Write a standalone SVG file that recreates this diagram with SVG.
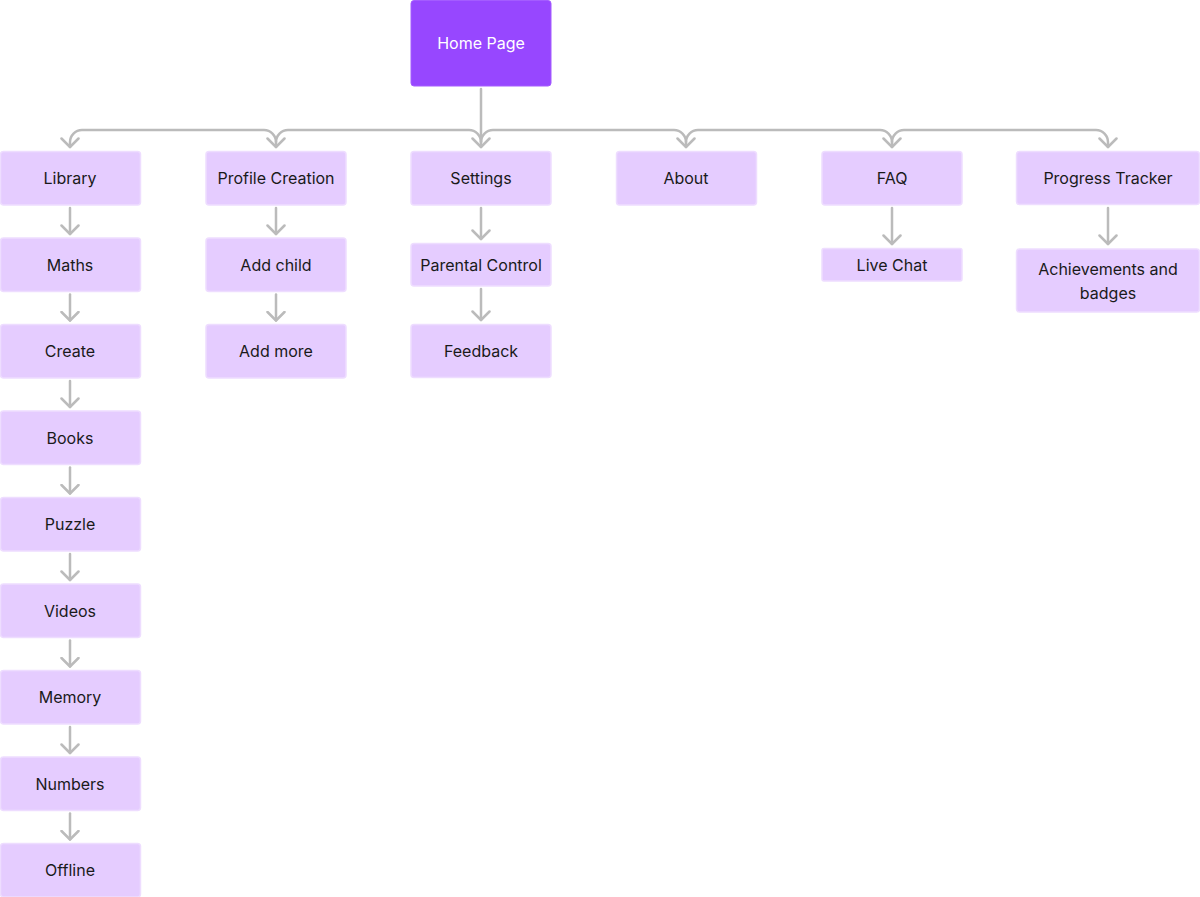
<svg xmlns="http://www.w3.org/2000/svg" width="1200" height="897" viewBox="0 0 1200 897">
<defs>
<style>
.n rect{fill:#E5CCFF;stroke:#EEDDFF;stroke-width:1.5}
.n text{font-family:Inter,"Noto Sans",sans-serif;font-size:16px;fill:#1A1A1A;text-anchor:middle}
.h rect{fill:#9747FF;stroke:#A45CFF;stroke-width:1}
.h text{font-family:Inter,"Noto Sans",sans-serif;font-size:16px;fill:#FFFFFF;text-anchor:middle}
.c path{fill:none;stroke:#BBBBBB;stroke-width:2.5;stroke-linecap:round;stroke-linejoin:round}
</style>
<marker id="a" viewBox="-10 -10 20 20" markerWidth="20" markerHeight="20" markerUnits="userSpaceOnUse" refX="0" refY="0" orient="auto">
<path d="M-8.5,-8.5 L0,0 L-8.5,8.5" fill="none" stroke="#BBBBBB" stroke-width="2.5" stroke-linecap="round" stroke-linejoin="round"/>
</marker>
</defs>
<g id="connectors" class="c">
<path d="M481 89 V147" marker-end="url(#a)"/>
<path d="M276 142 A12 12 0 0 0 264 130 H82 A12 12 0 0 0 70 142 V147" marker-end="url(#a)"/>
<path d="M481 142 A12 12 0 0 0 469 130 H288 A12 12 0 0 0 276 142 V147" marker-end="url(#a)"/>
<path d="M481 142 A12 12 0 0 1 493 130 H674 A12 12 0 0 1 686 142 V147" marker-end="url(#a)"/>
<path d="M686 142 A12 12 0 0 1 698 130 H880 A12 12 0 0 1 892 142 V147" marker-end="url(#a)"/>
<path d="M892 142 A12 12 0 0 1 904 130 H1096 A12 12 0 0 1 1108 142 V147" marker-end="url(#a)"/>
<path d="M70 208 V234" marker-end="url(#a)"/>
<path d="M70 294.5 V320.5" marker-end="url(#a)"/>
<path d="M70 381 V407" marker-end="url(#a)"/>
<path d="M70 467.5 V493.5" marker-end="url(#a)"/>
<path d="M70 554 V580" marker-end="url(#a)"/>
<path d="M70 640.5 V666.5" marker-end="url(#a)"/>
<path d="M70 727 V753" marker-end="url(#a)"/>
<path d="M70 813.5 V839.5" marker-end="url(#a)"/>
<path d="M276 208 V234" marker-end="url(#a)"/>
<path d="M276 294.5 V320.5" marker-end="url(#a)"/>
<path d="M481 208 V239" marker-end="url(#a)"/>
<path d="M481 289 V320" marker-end="url(#a)"/>
<path d="M892 208 V244" marker-end="url(#a)"/>
<path d="M1108 208 V244" marker-end="url(#a)"/>
</g>
<g id="home" class="h"><rect x="411" y="0.5" width="140" height="85.5" rx="3"/><text x="481" y="49">Home Page</text></g>
<g id="library" class="n"><rect x="0.5" y="151.5" width="140" height="53.5" rx="3"/><text x="70" y="184">Library</text></g>
<g id="maths" class="n"><rect x="0.5" y="238" width="140" height="53.5" rx="3"/><text x="70" y="270.5">Maths</text></g>
<g id="create" class="n"><rect x="0.5" y="324.5" width="140" height="53.5" rx="3"/><text x="70" y="357">Create</text></g>
<g id="books" class="n"><rect x="0.5" y="411" width="140" height="53.5" rx="3"/><text x="70" y="443.5">Books</text></g>
<g id="puzzle" class="n"><rect x="0.5" y="497.5" width="140" height="53.5" rx="3"/><text x="70" y="530">Puzzle</text></g>
<g id="videos" class="n"><rect x="0.5" y="584" width="140" height="53.5" rx="3"/><text x="70" y="616.5">Videos</text></g>
<g id="memory" class="n"><rect x="0.5" y="670.5" width="140" height="53.5" rx="3"/><text x="70" y="703">Memory</text></g>
<g id="numbers" class="n"><rect x="0.5" y="757" width="140" height="53.5" rx="3"/><text x="70" y="789.5">Numbers</text></g>
<g id="offline" class="n"><rect x="0.5" y="843.5" width="140" height="53.5" rx="3"/><text x="70" y="876">Offline</text></g>
<g id="profile" class="n"><rect x="206" y="151.5" width="140" height="53.5" rx="3"/><text x="276" y="184">Profile Creation</text></g>
<g id="addchild" class="n"><rect x="206" y="238" width="140" height="53.5" rx="3"/><text x="276" y="270.5">Add child</text></g>
<g id="addmore" class="n"><rect x="206" y="324.5" width="140" height="53.5" rx="3"/><text x="276" y="357">Add more</text></g>
<g id="settings" class="n"><rect x="411" y="151.5" width="140" height="53.5" rx="3"/><text x="481" y="184">Settings</text></g>
<g id="parental" class="n"><rect x="411" y="243.5" width="140" height="42.5" rx="3"/><text x="481" y="270.5">Parental Control</text></g>
<g id="feedback" class="n"><rect x="411" y="324.5" width="140" height="53" rx="3"/><text x="481" y="357">Feedback</text></g>
<g id="about" class="n"><rect x="616.5" y="151.5" width="140" height="53.5" rx="3"/><text x="686" y="184">About</text></g>
<g id="faq" class="n"><rect x="822" y="151.5" width="140" height="53.5" rx="3"/><text x="892" y="184">FAQ</text></g>
<g id="livechat" class="n"><rect x="822" y="248.5" width="140" height="32.5" rx="2"/><text x="892" y="270.5">Live Chat</text></g>
<g id="progress" class="n"><rect x="1016.5" y="151.5" width="183" height="53" rx="3"/><text x="1108" y="184">Progress Tracker</text></g>
<g id="achievements" class="n"><rect x="1016.5" y="249" width="183" height="63" rx="3"/><text x="1108" y="274.5">Achievements and</text><text x="1108" y="299">badges</text></g>
</svg>
